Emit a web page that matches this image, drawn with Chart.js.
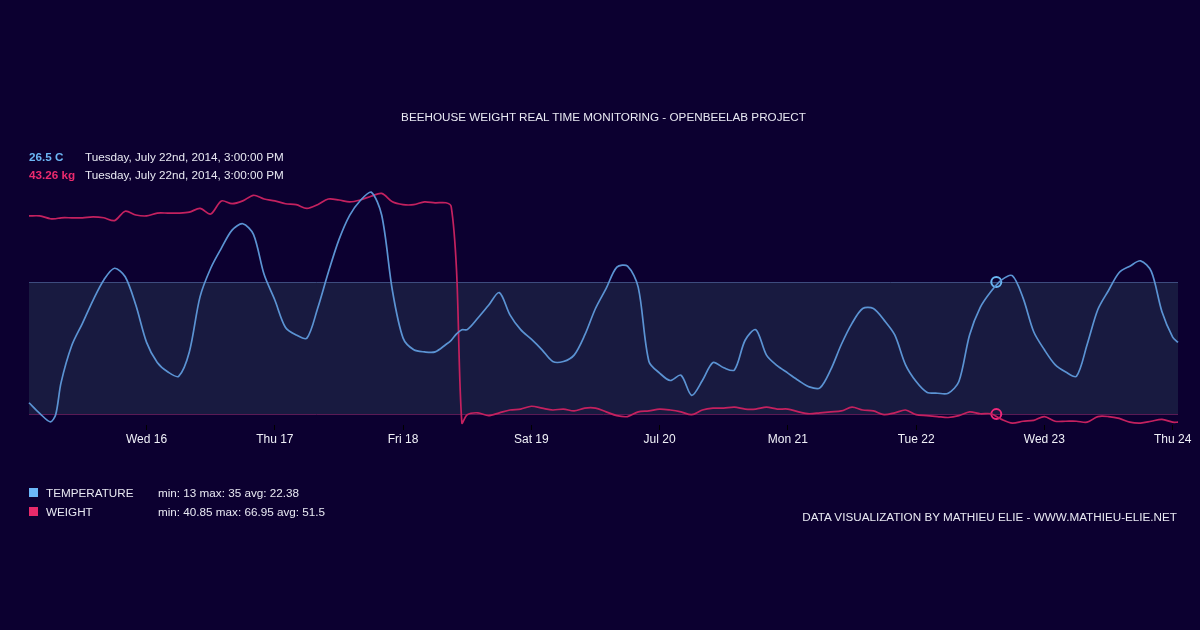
<!DOCTYPE html>
<html>
<head>
<meta charset="utf-8">
<title>Beehouse weight real time monitoring</title>
<script src="https://cdn.jsdelivr.net/npm/chart.js@4/dist/chart.umd.min.js"></script>
<style>
  html, body { margin:0; padding:0; background:#0c0030; width:1200px; height:630px; overflow:hidden;
    font-family:"Liberation Sans", Arial, sans-serif; color:#e8e8f2; }
  #wrap { position:relative; width:1200px; height:630px; }
  #wrap canvas { position:absolute; left:0; top:0; }
  .t { position:absolute; font-size:11.7px; line-height:12px; white-space:nowrap; }
  .sw { position:absolute; width:9px; height:9px; }
</style>
</head>
<body>
<div id="wrap">
  <canvas id="c" width="1200" height="630"></canvas>
  <div class="t" id="title" style="left:0;width:1207px;text-align:center;top:111px">BEEHOUSE WEIGHT REAL TIME MONITORING - OPENBEELAB PROJECT</div>
  <div class="t" style="left:29px;top:151px;color:#6cb6f4;font-weight:bold">26.5 C</div>
  <div class="t" style="left:85px;top:151px">Tuesday, July 22nd, 2014, 3:00:00 PM</div>
  <div class="t" style="left:29px;top:169px;color:#ec2a6e;font-weight:bold">43.26 kg</div>
  <div class="t" style="left:85px;top:169px">Tuesday, July 22nd, 2014, 3:00:00 PM</div>
  <div class="sw" style="left:29px;top:488px;background:#6cb8f8"></div>
  <div class="t" style="left:46px;top:487px">TEMPERATURE</div>
  <div class="t" style="left:158px;top:487px">min: 13 max: 35 avg: 22.38</div>
  <div class="sw" style="left:29px;top:507px;background:#e82a6a"></div>
  <div class="t" style="left:46px;top:506px">WEIGHT</div>
  <div class="t" style="left:158px;top:506px">min: 40.85 max: 66.95 avg: 51.5</div>
  <div class="t" style="right:23px;top:511px">DATA VISUALIZATION BY MATHIEU ELIE - WWW.MATHIEU-ELIE.NET</div>
</div>
<script>
// hours since Tue Jul 15 2014 00:00
const hours = [2,4,6,7,8,10,12,14,16,18,20,22,24,26,28,30,32,34,36,38,40,42,44,46,48,50,52,54,56,58,60,
  62,64,66,68,70,72,74,76,78,80,81,82,83,84,86,88,90,92,94,96,98,100,102,104,106,108,110,112,114,116,
  118,120,122,124,126,128,130,132,134,136,138,140,142,144,146,148,150,152,154,156,158,160,162,164,166,168,170,172,174,176,
  178,180,182,184,186,188,190,192,194,196,198,200,202,204,206,208,210,212,214,216,217];

const temperature = [15.1,14.1,13.3,14.0,17.0,20.5,22.6,24.8,26.7,27.8,27.0,24.3,20.8,18.9,18.0,17.6,19.9,25.1,27.8,29.7,31.4,
  32.0,31.0,27.2,24.8,22.2,21.5,21.2,24.0,27.4,30.5,32.8,34.2,35.0,32.8,25.7,21.2,20.1,19.9,19.9,20.6,
  21.0,21.6,22.0,22.0,23.1,24.3,25.5,23.4,22.0,21.1,20.1,19.0,19.0,19.6,21.5,24.0,25.9,27.9,28.0,26.0,
  19.0,17.9,17.2,17.7,15.8,17.2,18.9,18.4,18.2,21.0,22.0,19.6,18.6,17.9,17.2,16.6,16.5,18.2,20.6,22.6,
  24.0,24.0,22.9,21.5,18.7,17.1,16.1,16.0,16.0,17.1,21.5,24.1,25.6,26.7,27.1,25.0,21.8,20.1,18.7,18.0,
  17.6,20.6,23.9,25.7,27.4,28.0,28.5,27.5,23.7,21.3,20.8];

const weight = [64.4,64.4,64.1,64.1,64.2,64.2,64.2,64.3,64.2,63.9,64.9,64.5,64.4,64.7,64.7,64.7,64.8,65.2,64.6,66.0,65.7,
  66.0,66.6,66.2,66.0,65.7,65.6,65.2,65.6,66.2,66.1,65.9,66.1,66.5,66.8,65.9,65.6,65.6,65.9,65.8,65.8,
  65.4,58.6,42.3,43.2,43.4,43.1,43.4,43.7,43.8,44.1,43.9,43.7,43.8,43.6,43.9,43.9,43.5,43.1,43.0,43.5,
  43.6,43.8,43.7,43.5,43.2,43.7,43.9,43.9,44.0,43.8,43.8,44.0,43.8,43.8,43.5,43.3,43.4,43.5,43.6,44.0,
  43.7,43.6,43.2,43.4,43.7,43.2,43.1,43.0,42.9,43.1,43.5,43.3,43.3,42.7,42.3,42.5,42.6,43.0,42.5,42.5,
  42.5,42.4,43.0,43.0,42.8,42.4,42.3,42.5,42.7,42.4,42.4];

const tickHours = [24,48,72,96,120,144,168,192,216];
const tickLabels = ['Wed 16','Thu 17','Fri 18','Sat 19','Jul 20','Mon 21','Tue 22','Wed 23','Thu 24'];

// hovered reading: Tuesday Jul 22, 3:00 PM
const hoverHour = 183;
const hoverTemp = 26.5;
const hoverWeight = 43.26;

const bandPlugin = {
  id: 'band',
  beforeDatasetsDraw(chart) {
    const {ctx, chartArea, scales} = chart;
    const yTop = Math.round(scales.yT.getPixelForValue(hoverTemp)) + 0.5;
    const yBot = Math.round(scales.yW.getPixelForValue(hoverWeight)) + 0.5;
    ctx.save();
    ctx.fillStyle = '#181a40';
    ctx.fillRect(chartArea.left, yTop, chartArea.right - chartArea.left, yBot - yTop);
    ctx.lineWidth = 1;
    ctx.strokeStyle = '#3d4c7e';
    ctx.beginPath(); ctx.moveTo(chartArea.left, yTop); ctx.lineTo(chartArea.right, yTop); ctx.stroke();
    ctx.strokeStyle = '#5a1a55';
    ctx.beginPath(); ctx.moveTo(chartArea.left, yBot); ctx.lineTo(chartArea.right, yBot); ctx.stroke();
    ctx.restore();
  }
};

new Chart(document.getElementById('c'), {
  type: 'line',
  data: {
    datasets: [
      {
        label: 'Temperature',
        data: hours.map((h, i) => ({x: h, y: temperature[i]})),
        yAxisID: 'yT',
        borderColor: '#5b93d3',
        borderWidth: 1.7,
        pointRadius: 0,
        tension: 0.3,
        clip: false
      },
      {
        label: 'Weight',
        data: hours.map((h, i) => ({x: h, y: weight[i]})),
        yAxisID: 'yW',
        borderColor: '#c4215f',
        borderWidth: 1.7,
        pointRadius: 0,
        tension: 0.3,
        clip: false
      },
      {
        data: [{x: hoverHour, y: hoverTemp}],
        yAxisID: 'yT',
        showLine: false,
        pointRadius: 5,
        pointBorderWidth: 2,
        pointBorderColor: '#6ab6f2',
        pointBackgroundColor: 'rgba(0,0,0,0)',
        clip: false
      },
      {
        data: [{x: hoverHour, y: hoverWeight}],
        yAxisID: 'yW',
        showLine: false,
        pointRadius: 5,
        pointBorderWidth: 2,
        pointBorderColor: '#f0287a',
        pointBackgroundColor: 'rgba(0,0,0,0)',
        clip: false
      }
    ]
  },
  options: {
    responsive: false,
    animation: false,
    events: [],
    layout: { padding: { left: 29, right: 22, top: 192, bottom: 175 } },
    plugins: { legend: { display: false }, title: { display: false }, tooltip: { enabled: false } },
    scales: {
      x: {
        type: 'linear',
        min: 2,
        max: 217,
        afterBuildTicks(scale) { scale.ticks = tickHours.map(v => ({value: v})); },
        afterFit(scale) { scale.height = 30; },
        ticks: {
          autoSkip: false,
          maxRotation: 0,
          padding: 2,
          color: '#f0f0f8',
          font: { family: '"Liberation Sans", Arial, sans-serif', size: 12 },
          callback: (v, i) => tickLabels[i]
        },
        grid: { drawOnChartArea: false, drawTicks: true, tickLength: 5, color: '#000000' },
        border: { display: false }
      },
      yT: { type: 'linear', display: false, min: 13, max: 35 },
      yW: { type: 'linear', display: false, min: 42.1, max: 66.95 }
    }
  },
  plugins: [bandPlugin]
});
</script>
</body>
</html>
